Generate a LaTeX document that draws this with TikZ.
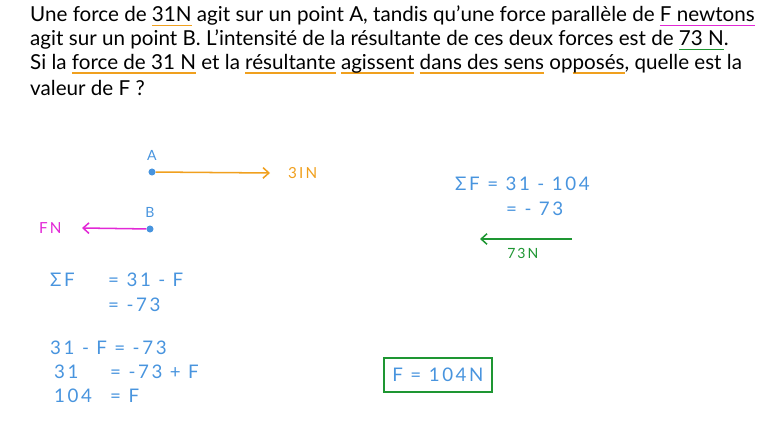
\documentclass[tikz,border=0pt]{standalone}
\usepackage{fontspec}
\setmainfont{Lato}
\newfontfamily\penfont[LetterSpace=14]{Lato}
\usetikzlibrary{positioning}
\usetikzlibrary{arrows.meta}

\definecolor{penblue}{RGB}{72,148,222}
\definecolor{penorange}{RGB}{240,160,30}
\definecolor{penpink}{RGB}{226,40,214}
\definecolor{pengreen}{RGB}{30,150,50}

% underline a word in a given colour
\newcommand\markword[2]{\setbox0\hbox{#2}\rlap{\color{#1}\rule[-4pt]{\wd0}{1.4pt}}\box0\relax}

\tikzset{
    question/.style={anchor=west, inner sep=0pt, font=\fontsize{17.6}{20}\selectfont},
    work/.style={anchor=west, inner sep=0pt, text=penblue, font=\penfont\fontsize{16}{19}\selectfont},
    point/.style={circle, fill=penblue, inner sep=0pt, minimum size=6pt},
    force/.style={line width=1.3pt, -{Straight Barb[length=5pt,width=9pt]}},
}

\begin{document}
\begin{tikzpicture}[x=0.03cm, y=-0.03cm]
    \useasboundingbox (0,0) rectangle (760,427);

    % question
    \node [question] (q1) at (30,16) {Une force de \markword{penorange}{31N} agit sur un point A, tandis qu’une force parallèle de \markword{penpink}{F newtons}};
    \node [question] (q2) at (30,40) {agit sur un point B. L’intensité de la résultante de ces deux forces est de \markword{pengreen}{73 N}.};
    \node [question] (q3) at (30,64) {Si la \markword{penorange}{force de 31 N} et la \markword{penorange}{résultante} \markword{penorange}{agissent} \markword{penorange}{dans des sens} op\markword{penorange}{posés}, quelle est la};
    \node [question] (q4) at (30,88) {valeur de F ?};

    % the two forces
    \node [point] (dotA) at (152,172) {};
    \node [text=penblue, font=\fontsize{12}{14}\selectfont, above=3pt of dotA] (labA) {A};
    \coordinate (tipA) at (270,173);
    \node [text=penorange, font=\penfont\fontsize{13}{15}\selectfont, right=12pt of tipA] (valA) {3IN};
    \draw [force, penorange] (dotA) -- (tipA);

    \node [point] (dotB) at (150,229) {};
    \node [text=penblue, font=\fontsize{12}{14}\selectfont, above=3pt of dotB] (labB) {B};
    \coordinate (tipB) at (82,228);
    \node [text=penpink, font=\penfont\fontsize{13}{15}\selectfont, left=14pt of tipB] (valB) {FN};
    \draw [force, penpink] (dotB) -- (tipB);

    % resultant check
    \node [work] (chk1) at (455,184) {ΣF = 31 - 104};
    \node [work] (chk2) at (506,209) {= - 73};
    \coordinate (resR) at (572,239);
    \coordinate (resL) at (480,239);
    \draw [force, pengreen] (resR) -- (resL);
    \node [text=pengreen, font=\penfont\fontsize{12}{14}\selectfont, below=4pt of resR, xshift=-42pt] (resval) {73N};

    % working
    \node [work] (sum1) at (50,280) {ΣF};
    \node [work] (sum2) at (108,280) {= 31 - F};
    \node [work] (sum3) at (108,305) {= -73};

    \node [work] (eq1) at (50,348) {31 - F = -73};
    \node [work] (eq2a) at (54,372) {31};
    \node [work] (eq2b) at (110,372) {= -73 + F};
    \node [work] (eq3a) at (54,396) {104};
    \node [work] (eq3b) at (110,396) {= F};

    % answer
    \node [draw=pengreen, line width=1.5pt, minimum width=3.25cm, minimum height=1cm, text=penblue, font=\penfont\fontsize{16}{19}\selectfont] (answer) at (438,375) {F = 104N};
\end{tikzpicture}
\end{document}
